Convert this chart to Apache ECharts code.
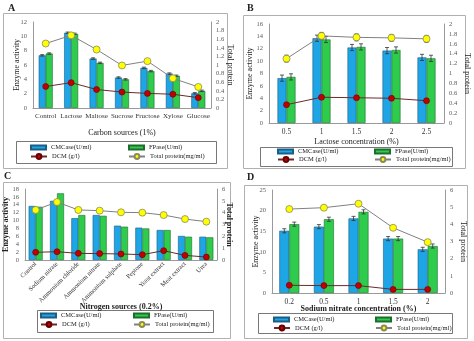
<!DOCTYPE html>
<html><head><meta charset="utf-8">
<script src="https://cdn.jsdelivr.net/npm/echarts@6/dist/echarts.min.js"></script>
<style>html,body{margin:0;padding:0;background:#fff}#c{width:474px;height:341px}</style>
</head><body><div id="c"></div>
<script>
// ---------- DATA ----------
const catsA = ['Control','Lactose','Maltose','Sucrose','Fructose','Xylose','Glucose'];
const cmcA = [7.35, 10.5, 6.9, 4.25, 5.6, 4.8, 2.05];
const fpA  = [7.6, 10.35, 6.3, 4.0, 5.15, 4.5, 2.4];
const cmcErrA = [0.1, 0.1, 0.1, 0.1, 0.1, 0.1, 0.1];
const fpErrA  = [0.1, 0.1, 0.1, 0.1, 0.1, 0.1, 0.1];
const dcmA = [0.5, 0.59, 0.43, 0.37, 0.34, 0.32, 0.24];
const protA = [1.5, 1.69, 1.36, 0.99, 1.09, 0.69, 0.49];

const catsB = ['0.5','1','1.5','2','2.5'];
const cmcB = [7.25, 13.7, 12.2, 11.7, 10.6];
const fpB  = [7.45, 13.5, 12.3, 11.8, 10.45];
const cmcErrB = [0.5, 0.5, 0.5, 0.5, 0.5];
const fpErrB  = [0.5, 0.5, 0.5, 0.5, 0.5];
const dcmB = [0.37, 0.52, 0.51, 0.5, 0.45];
const protB = [1.3, 1.76, 1.73, 1.72, 1.7];
const protErrB = [0.07, 0.07, 0.07, 0.07, 0.07];

const catsC = ['Control','Sodium nitrate','Ammonium chloride','Ammonium nitrate','Ammonium sulphate','Peptone','Yeast extract','Meat extract','Urea'];
const cmcC = [13.7, 15.0, 10.6, 11.4, 8.7, 8.2, 7.6, 6.1, 5.9];
const fpC  = [13.5, 16.9, 11.4, 11.2, 8.45, 8.0, 7.6, 5.9, 5.75];
const dcmC = [0.65, 0.7, 0.56, 0.54, 0.51, 0.45, 0.79, 0.39, 0.25];
const protC = [4.23, 4.9, 4.23, 4.17, 4.03, 4.0, 3.8, 3.46, 3.24];

const catsD = ['0.2','0.5','1','1.5','2'];
const cmcD = [15.1, 16.1, 18.1, 13.2, 10.6];
const fpD  = [16.7, 17.9, 19.7, 13.2, 11.4];
const cmcErrD = [0.5, 0.5, 0.5, 0.5, 0.5];
const fpErrD  = [0.5, 0.5, 0.5, 0.5, 0.5];
const dcmD = [0.45, 0.43, 0.43, 0.21, 0.21];
const protD = [4.89, 4.97, 5.2, 3.8, 2.96];

const names = ['CMCase(U/ml)','FPase(U/ml)','DCM (g/l)','Total protein(mg/ml)'];

// ---------- STYLE ----------
const FONT = 'Liberation Serif';
const BLUE = '#1ea5e6', GREEN = '#2fcb4c';
const chart = echarts.init(document.getElementById('c'), null, {renderer:'canvas'});

const panels = [
  {cats:catsA, cmc:cmcA, fp:fpA, cmcE:cmcErrA, fpE:fpErrA, dcm:dcmA, prot:protA, protE:null,
   grid:{left:33, top:22, width:178, height:86}, lmax:12, lint:2, rmax:2, rint:0.2, bw:7,
   xname:'Carbon sources (1%)', xgap:21, bold:false, lgap:12, rgap:15, rot:0, xfs:7},
  {cats:catsB, cmc:cmcB, fp:fpB, cmcE:cmcErrB, fpE:fpErrB, dcm:dcmB, prot:protB, protE:protErrB,
   grid:{left:269, top:24, width:175, height:99}, lmax:16, lint:2, rmax:2, rint:0.2, bw:9,
   xname:'Lactose concentration (%)', xgap:15, bold:false, lgap:15, rgap:19, rot:0, xfs:7.5},
  {cats:catsC, cmc:cmcC, fp:fpC, cmcE:null, fpE:null, dcm:dcmC, prot:protC, protE:null,
   grid:{left:25, top:189, width:192, height:71}, lmax:18, lint:2, rmax:6, rint:1, bw:7,
   xname:'Nitrogen sources (0.2%)', xgap:43, bold:true, lgap:15, rgap:8, rot:45, boldY:true, xfs:6.5},
  {cats:catsD, cmc:cmcD, fp:fpD, cmcE:cmcErrD, fpE:fpErrD, dcm:dcmD, prot:protD, protE:null,
   grid:{left:272, top:190, width:173, height:103}, lmax:25, lint:5, rmax:6, rint:1, bw:10,
   xname:'Sodium nitrate concentration (%)', xgap:12, bold:true, lgap:12, rgap:14, rot:0, xfs:7.5}
];

const legendPos = [
  {c1:30, c2:128, r1:148, r2:157},
  {c1:277, c2:374, r1:152, r2:160},
  {c1:40, c2:133, r1:316, r2:325},
  {c1:273, c2:375, r1:320, r2:328.5}
];
const panelBoxes = [[3,13,224,155],[243,15,222,153],[3,182,227,156],[244,185,223,153]];
const legendBoxes = [[16,141,200,22],[260,147,192,19],[37,310,176,22],[258,313,194,20]];
const letters = [['A',8,3],['B',247,3],['C',4,171],['D',247,172]];

const grids=[], xAxes=[], yAxes=[], series=[], legends=[];

function errSeries(xi, yi, vals, errs, offset) {
  return {
    type:'custom', xAxisIndex:xi, yAxisIndex:yi, silent:true, z:5,
    data: vals.map((v,i)=>[i, v, errs[i]]),
    renderItem:function(params, api){
      const i = api.value(0), v = api.value(1), e = api.value(2);
      const x = api.coord([i, v])[0] + offset;
      const hi = api.coord([i, v+e])[1], lo = api.coord([i, v-e])[1];
      const st = {stroke:'#333', lineWidth:0.8};
      return {type:'group', children:[
        {type:'line', shape:{x1:x,y1:hi,x2:x,y2:lo}, style:st},
        {type:'line', shape:{x1:x-2,y1:hi,x2:x+2,y2:hi}, style:st},
        {type:'line', shape:{x1:x-2,y1:lo,x2:x+2,y2:lo}, style:st}
      ]};
    }
  };
}

panels.forEach((p,k)=>{
  grids.push(Object.assign({containLabel:false}, p.grid));
  const axLine = {show:true, lineStyle:{color:'#9a9a9a', width:1}};
  const lab = {fontFamily:FONT, fontSize:6.5, color:'#595959'};
  xAxes.push({type:'category', gridIndex:k, data:p.cats,
    axisLine:axLine, axisTick:{show:false},
    axisLabel:{fontFamily:FONT, fontSize:p.xfs, color:'#333', interval:0, rotate:p.rot, margin:p.rot?3:5},
    name:p.xname, nameLocation:'middle', nameGap:p.xgap, nameMoveOverlap:false,
    nameTextStyle:{fontFamily:FONT, fontSize:8, color:'#222', fontWeight:p.bold?'bold':'normal'}});
  yAxes.push({type:'value', gridIndex:k, position:'left', min:0, max:p.lmax, interval:p.lint,
    axisLine:axLine, axisTick:{show:false}, splitLine:{show:false}, axisLabel:Object.assign({margin:6},lab),
    name:'Enzyme activity', nameLocation:'middle', nameGap:p.lgap, nameRotate:90, nameMoveOverlap:false,
    nameTextStyle:{fontFamily:FONT, fontSize:8, color:'#222', fontWeight:p.boldY?'bold':'normal'}});
  yAxes.push({type:'value', gridIndex:k, position:'right', min:0, max:p.rmax, interval:p.rint,
    axisLine:axLine, axisTick:{show:false}, splitLine:{show:false}, axisLabel:Object.assign({margin:5},lab),
    name:'Total protein', nameLocation:'middle', nameGap:p.rgap, nameRotate:-90, nameMoveOverlap:false,
    nameTextStyle:{fontFamily:FONT, fontSize:8, color:'#222', fontWeight:p.boldY?'bold':'normal'}});
  const L = 2*k, R = 2*k+1;
  series.push({type:'bar', name:names[0], xAxisIndex:k, yAxisIndex:L, data:p.cmc, barWidth:p.bw, barGap:'0%',
    itemStyle:{color:BLUE, borderColor:'#1b5d85', borderWidth:0.6}});
  series.push({type:'bar', name:names[1], xAxisIndex:k, yAxisIndex:L, data:p.fp, barWidth:p.bw, barGap:'0%',
    itemStyle:{color:GREEN, borderColor:'#1d6e2c', borderWidth:0.6}});
  if (p.cmcE) series.push(errSeries(k, L, p.cmc, p.cmcE, -p.bw/2));
  if (p.fpE) series.push(errSeries(k, L, p.fp, p.fpE, p.bw/2));
  series.push({type:'line', name:names[2], xAxisIndex:k, yAxisIndex:R, data:p.dcm, z:6,
    symbol:'circle', symbolSize:6, lineStyle:{color:'#6b2a2a', width:1},
    itemStyle:{color:'#c00000', borderColor:'#600', borderWidth:0.6}});
  series.push({type:'line', name:names[3], xAxisIndex:k, yAxisIndex:R, data:p.prot, z:6,
    symbol:'circle', symbolSize:7, lineStyle:{color:'#808080', width:1},
    itemStyle:{color:'#ffff00', borderColor:'#8a8a5a', borderWidth:0.8}});
  if (p.protE) series.push(errSeries(k, R, p.prot, p.protE, 0));

  const lp = legendPos[k];
  const ts = {fontFamily:FONT, fontSize:6.5, color:'#222'};
  legends.push({data:[names[0]], left:lp.c1, top:lp.r1-4, padding:0, icon:'rect', itemWidth:15, itemHeight:4, textStyle:ts, selectedMode:false});
  legends.push({data:[names[1]], left:lp.c2, top:lp.r1-4, padding:0, icon:'rect', itemWidth:15, itemHeight:4, textStyle:ts, selectedMode:false});
  legends.push({data:[names[2]], left:lp.c1, top:lp.r2-4, padding:0, itemWidth:16, itemHeight:6, textStyle:ts, selectedMode:false});
  legends.push({data:[names[3]], left:lp.c2, top:lp.r2-4, padding:0, itemWidth:16, itemHeight:6, textStyle:ts, selectedMode:false});
});

const graphic = [];
panelBoxes.forEach(b=>graphic.push({type:'rect', shape:{x:b[0]+0.5,y:b[1]+0.5,width:b[2],height:b[3]}, style:{fill:null, stroke:'#b0b0b0', lineWidth:1}, z:-10, silent:true}));
legendBoxes.forEach(b=>graphic.push({type:'rect', shape:{x:b[0]+0.5,y:b[1]+0.5,width:b[2],height:b[3]}, style:{fill:null, stroke:'#555', lineWidth:0.8}, z:-5, silent:true}));
letters.forEach(l=>graphic.push({type:'text', left:l[1], top:l[2], style:{text:l[0], font:'bold 10px "Liberation Serif"', fill:'#222'}, silent:true}));

chart.setOption({
  animation:false,
  textStyle:{fontFamily:FONT},
  grid:grids, xAxis:xAxes, yAxis:yAxes, series:series, legend:legends, graphic:graphic
});
</script></body></html>
